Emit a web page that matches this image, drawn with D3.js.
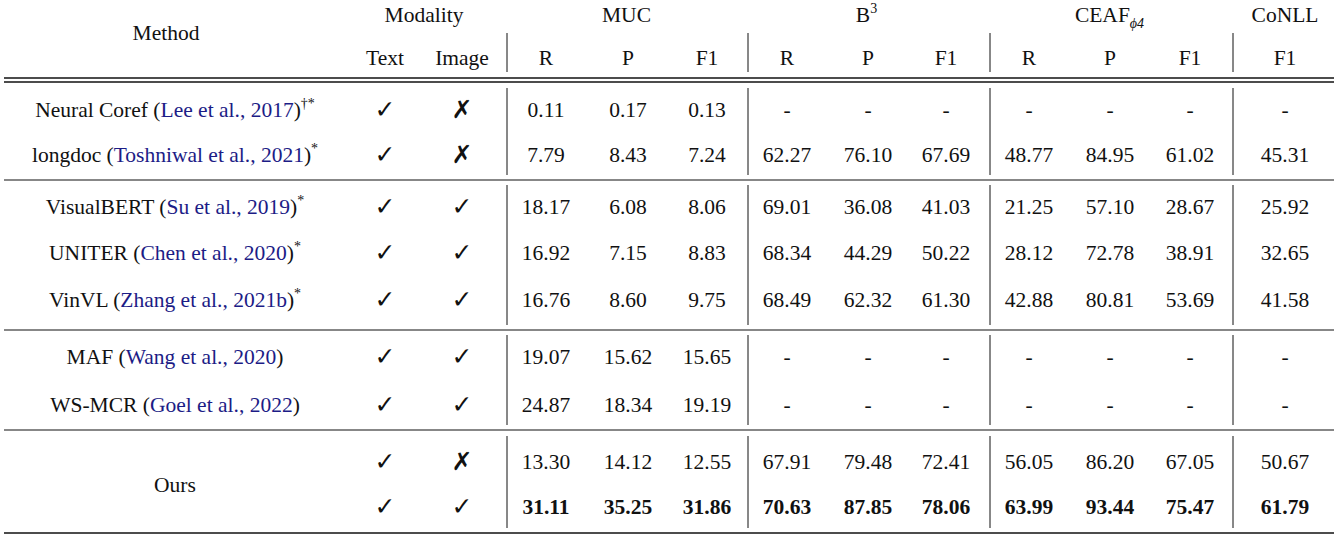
<!DOCTYPE html>
<html><head><meta charset="utf-8">
<script src="https://cdn.jsdelivr.net/npm/d3@7/dist/d3.min.js"></script>
<style>body{margin:0;background:#fff}svg text{font-family:"Liberation Serif",serif;font-size:21.5px;fill:#111}</style>
</head><body><div id="chart"></div>
<script>
// methods: [name, cite, close, superscript]
const methods = [
  ["Neural Coref ", "Lee et al., 2017", ")", "†*"],
  ["longdoc ", "Toshniwal et al., 2021", ")", "*"],
  ["VisualBERT ", "Su et al., 2019", ")", "*"],
  ["UNITER ", "Chen et al., 2020", ")", "*"],
  ["VinVL ", "Zhang et al., 2021b", ")", "*"],
  ["MAF ", "Wang et al., 2020", ")", ""],
  ["WS-MCR ", "Goel et al., 2022", ")", ""],
  ["", "", "", ""],
  ["", "", "", ""]
];
const textMod  = [1,1,1,1,1,1,1,1,1];
const imageMod = [0,0,1,1,1,1,1,0,1];
const scores = [
  ["0.11","0.17","0.13","-","-","-","-","-","-","-"],
  ["7.79","8.43","7.24","62.27","76.10","67.69","48.77","84.95","61.02","45.31"],
  ["18.17","6.08","8.06","69.01","36.08","41.03","21.25","57.10","28.67","25.92"],
  ["16.92","7.15","8.83","68.34","44.29","50.22","28.12","72.78","38.91","32.65"],
  ["16.76","8.60","9.75","68.49","62.32","61.30","42.88","80.81","53.69","41.58"],
  ["19.07","15.62","15.65","-","-","-","-","-","-","-"],
  ["24.87","18.34","19.19","-","-","-","-","-","-","-"],
  ["13.30","14.12","12.55","67.91","79.48","72.41","56.05","86.20","67.05","50.67"],
  ["31.11","35.25","31.86","70.63","87.85","78.06","63.99","93.44","75.47","61.79"]
];
const boldRow = 8;
const subHeads = ["R","P","F1","R","P","F1","R","P","F1","F1"];
const groups = [["MUC",0,2],["B",3,5,"3"],["CEAF",6,8,"ϕ4"],["CoNLL",9,9]];
const rowY = [110,155,207,253,300,357,405,462,507];

const W=1338,H=536;
const svg=d3.select("#chart").append("svg").attr("width",W).attr("height",H);
const cx=[546,628,707,787,868,946,1029,1110,1190,1285];
const x=i=>cx[i];
const navy="#1c1c86";

// header
svg.append("text").attr("x",166).attr("y",40).attr("text-anchor","middle").text("Method");
svg.append("text").attr("x",424).attr("y",22).attr("text-anchor","middle").text("Modality");
svg.append("text").attr("x",385).attr("y",65).attr("text-anchor","middle").text("Text");
svg.append("text").attr("x",462).attr("y",65).attr("text-anchor","middle").text("Image");
groups.forEach(g=>{
  const t=svg.append("text").attr("x",(x(g[1])+x(g[2]))/2).attr("y",22).attr("text-anchor","middle");
  t.append("tspan").text(g[0]);
  if(g[0]==="B") t.append("tspan").attr("dy",-9).style("font-size","14px").text(g[3]);
  if(g[0]==="CEAF") t.append("tspan").attr("dy",6).style("font-size","14px").style("font-style","italic").text(g[3]);
});
subHeads.forEach((s,i)=>svg.append("text").attr("x",x(i)).attr("y",65).attr("text-anchor","middle").text(s));

// rules
const hl=(y,w)=>svg.append("line").attr("x1",4).attr("x2",1334).attr("y1",y).attr("y2",y).attr("stroke","#111").attr("stroke-width",w);
hl(78,1.4);hl(82,1.4);hl(180,1.2);hl(330,1.2);hl(430,1.2);hl(533,1.6);
const vx=[507,748,990,1233];
const vseg=[[33,72],[88,175],[185,325],[335,425],[436,528]];
vx.forEach(v=>vseg.forEach(s=>svg.append("line").attr("x1",v).attr("x2",v).attr("y1",s[0]).attr("y2",s[1]).attr("stroke","#111").attr("stroke-width",1)));

// rows
methods.forEach((m,i)=>{
  const y=rowY[i]+7;
  if(m[0]){
    const t=svg.append("text").attr("x",175).attr("y",y).attr("text-anchor","middle");
    t.append("tspan").text(m[0]+"(");
    t.append("tspan").style("fill",navy).text(m[1]);
    t.append("tspan").text(m[2]);
    if(m[3]) t.append("tspan").attr("dy",-9).style("font-size","14px").style("fill","#111").text(m[3]);
  }
  const mk=(xx,v)=>svg.append("text").attr("x",xx).attr("y",y+1).attr("text-anchor","middle")
    .style("font-family","DejaVu Sans").style("font-size","25px").style("font-weight","bold").text(v?"✓":"✗");
  mk(385,textMod[i]);mk(462,imageMod[i]);
  scores[i].forEach((s,j)=>svg.append("text").attr("x",x(j)).attr("y",y).attr("text-anchor","middle")
    .style("font-weight",i===boldRow?"bold":"normal").text(s));
});
svg.append("text").attr("x",175).attr("y",(rowY[7]+rowY[8])/2+7).attr("text-anchor","middle").text("Ours");
</script></body></html>
